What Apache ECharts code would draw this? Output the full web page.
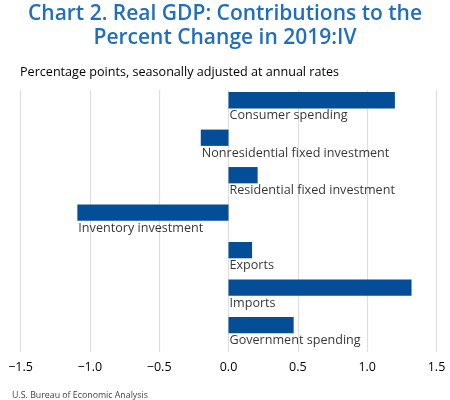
<!DOCTYPE html>
<html>
<head>
<meta charset="utf-8">
<script src="https://cdn.jsdelivr.net/npm/echarts@6/dist/echarts.min.js"></script>
<style>
html,body{margin:0;padding:0;background:#fff;}
#chart{width:450px;height:400px;}
</style>
</head>
<body>
<div id="chart"></div>
<script>
var categories = ["Consumer spending", "Nonresidential fixed investment", "Residential fixed investment", "Inventory investment", "Exports", "Imports", "Government spending"];
var contributions = [1.20, -0.20, 0.21, -1.09, 0.17, 1.32, 0.47];
var tickLabels = {"-1.5": "\u22121.5", "-1": "\u22121.0", "-0.5": "\u22120.5", "0": "0.0", "0.5": "0.5", "1": "1.0", "1.5": "1.5"};

var chart = echarts.init(document.getElementById('chart'), null, {renderer: 'canvas'});
var font = "'Open Sans', sans-serif";
var option = {
  animation: false,
  backgroundColor: '#ffffff',
  title: [
    {
      text: 'Chart 2. Real GDP: Contributions to the\nPercent Change in 2019:IV',
      left: 'center', top: -3,
      textStyle: {color: '#1f6fbb', fontSize: 21, fontWeight: 600, fontFamily: font, lineHeight: 24}
    },
    {
      text: 'Percentage points, seasonally adjusted at annual rates',
      left: 15, top: 61,
      textStyle: {color: '#000', fontSize: 12.6, fontWeight: 'normal', fontFamily: font}
    },
    {
      text: 'U.S. Bureau of Economic Analysis',
      left: 7, top: 386,
      textStyle: {color: '#444', fontSize: 8.8, fontWeight: 'normal', fontFamily: font}
    }
  ],
  grid: {left: 20.5, right: 13.5, top: 90, bottom: 47.7},
  xAxis: {
    type: 'value', min: -1.5, max: 1.5, interval: 0.5,
    axisLine: {show: false}, axisTick: {show: false},
    splitLine: {show: true, lineStyle: {color: '#dedede', width: 1.2}},
    axisLabel: {
      color: '#000', fontSize: 12.5, fontFamily: font, margin: 9,
      formatter: function (v) { var k = String(Math.round(v * 10) / 10); return tickLabels[k] !== undefined ? tickLabels[k] : k; }
    }
  },
  yAxis: {
    type: 'category', data: categories, inverse: true,
    axisLine: {show: false}, axisTick: {show: false}, axisLabel: {show: false}, splitLine: {show: false}
  },
  series: [
    {
      type: 'bar', data: contributions, barWidth: 16.3, barGap: '4%',
      itemStyle: {color: '#034e97'}
    },
    {
      type: 'bar', data: contributions.map(function () { return 0; }), barWidth: 16.3,
      itemStyle: {color: 'rgba(0,0,0,0)'}, silent: true
    },
    {
      type: 'scatter', symbolSize: 0, silent: true,
      data: contributions.map(function (v, i) { return [Math.min(v, 0), i]; }),
      label: {
        show: true, position: 'right', distance: 1, offset: [0, 7],
        color: '#000', fontSize: 12.6, fontFamily: font,
        formatter: function (p) { return categories[p.dataIndex]; }
      }
    }
  ]
};
chart.setOption(option);
</script>
</body>
</html>
